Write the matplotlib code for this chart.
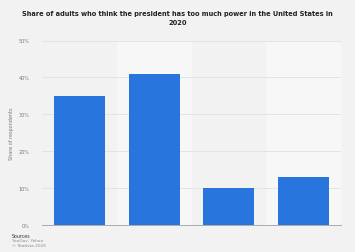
import matplotlib.pyplot as plt
import numpy as np

categories = ['A', 'B', 'C', 'D']
values = [35, 41, 10, 13]
y_ticks = [0, 10, 20, 30, 40, 50]
y_tick_labels = ['0%', '10%', '20%', '30%', '40%', '50%']

title = 'Share of adults who think the president has too much power in the United States in\n2020'
source_lines = ['YouGov; Yahoo', '\u00a9 Statista 2025']

bg = '#f2f2f2'
band = '#f7f7f7'
bar_color = '#2876dd'

fig = plt.figure(figsize=(3.55, 2.53), dpi=100)
fig.patch.set_facecolor(bg)
ax = fig.add_axes([42 / 355, 1 - 226 / 253, 299 / 355, (226 - 41.5) / 253])
ax.set_facecolor(bg)

x = np.arange(len(categories))
for i in x:
    if i % 2 == 1:
        ax.axvspan(i - 0.5, i + 0.5, color=band, zorder=0, lw=0)

for t in y_ticks[1:]:
    ax.axhline(t, color='#dddddd', lw=0.5, zorder=1)

ax.bar(x, values, width=0.68, color=bar_color, zorder=2)

ax.set_xlim(-0.5, len(categories) - 0.5)
ax.set_ylim(0, 50)
ax.set_yticks(y_ticks)
ax.set_yticklabels(y_tick_labels, fontsize=3.5, color='#777777')
ax.set_xticks([])
ax.tick_params(axis='y', length=0, pad=9)
for s in ['top', 'right', 'left']:
    ax.spines[s].set_visible(False)
ax.spines['bottom'].set_color('#aaaaaa')
ax.spines['bottom'].set_linewidth(0.7)

ax.set_ylabel('Share of respondents', fontsize=3.5, color='#777777', labelpad=3)

fig.text(0.5, 1 - 18.5 / 253, title, ha='center', va='center', fontsize=4.8,
         fontweight='bold', color='#222222', linespacing=1.6)

fig.text(12 / 355, 1 - 236 / 253, 'Sources', fontsize=3.4, color='#333333', va='center')
fig.text(12 / 355, 1 - 241.5 / 253, source_lines[0], fontsize=3.1, color='#888888', va='center')
fig.text(12 / 355, 1 - 246.5 / 253, source_lines[1], fontsize=3.1, color='#888888', va='center')

fig.savefig('out.png', dpi=100, facecolor=bg)
